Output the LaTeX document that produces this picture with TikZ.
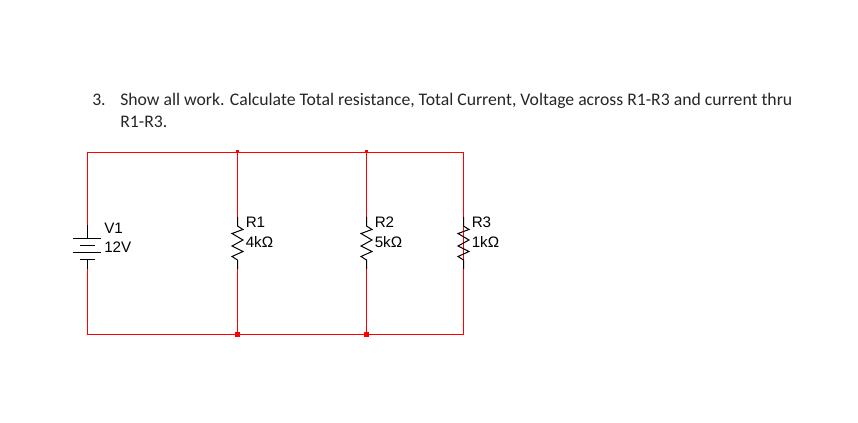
\documentclass[tikz,border=0pt]{standalone}
\usepackage{fontspec}
\setmainfont{Carlito}
\newfontfamily\partfont{Liberation Sans}
\usepackage{xcolor}
\usetikzlibrary{calc, positioning}

\definecolor{wirered}{RGB}{255,0,0}
\definecolor{textgray}{RGB}{38,38,38}
\tikzset{
    wire/.style={draw=wirered, line width=0.27mm},
    lead/.style={draw=black, line width=0.25mm},
    txt/.style={anchor=base west, inner sep=0pt, text=textgray, font=\fontsize{12.58pt}{14pt}\selectfont},
    partlabel/.style={anchor=base west, inner sep=0pt, text=black, font=\partfont\fontsize{10.8pt}{12pt}\selectfont},
    joint/.style={fill=wirered, inner sep=0pt, minimum width=1.1mm, minimum height=1.1mm}
}

\begin{document}
\begin{tikzpicture}[x=0.25mm, y=-0.25mm]
    \useasboundingbox (0, 0) rectangle (858, 422);
    % question text
    \node[txt] (num) at (92, 105) {3.};
    \node[txt] (line1) at (120, 105) {Show all work. Calculate Total resistance, Total Current, Voltage across R1-R3 and current thru};
    \node[txt] (line2) at (120, 127) {R1-R3.};
    % corners of the loop
    \coordinate (tl) at (87.5, 152.5);
    \coordinate (tr) at (463.5, 152.5);
    \coordinate (bl) at (87.5, 334.5);
    \coordinate (br) at (463.5, 334.5);
    \node[joint, minimum width=0.9mm, minimum height=0.7mm] (top1) at (237.5, 151.5) {};
    \node[joint, minimum width=0.9mm, minimum height=0.7mm] (top2) at (366.5, 151.5) {};
    \node[joint] (bot1) at (237.5, 334.5) {};
    \node[joint] (bot2) at (366.5, 334.5) {};
    % battery ends
    \coordinate (vtop) at (87.5, 225);
    \coordinate (vbot) at (87.5, 269);
    \coordinate (pl1) at (87.5, 238);
    \coordinate (pl4) at (87.5, 259);
    \draw[wire] (vtop) -- (tl) -- (tr) -- (br) -- (bl) -- (vbot);
    \draw[lead] (vtop) -- (pl1) (pl4) -- (vbot);
    \draw[lead]
    (73, 238.5) -- (101, 238.5)
    (80, 245.5) -- (95, 245.5)
    (73, 252.5) -- (101, 252.5)
    (80, 259.5) -- (95, 259.5);
    \node[partlabel] (v1) at (104, 233) {V1};
    \node[partlabel] (v1val) at (104, 252.5) {12V};
    % the three resistors
    \foreach \name/\x/\val/\side in {R1/237.5/4/top1, R2/366.5/5/top2, R3/463.5/1/tr} {
        \coordinate (\name a) at (\x, 217);
        \coordinate (\name b) at (\x, 269);
        \draw[wire] (\side |- tr) -- (\name a);
        \draw[lead] (\name a) -- (\x, 226) -- (\x + 5.5, 229.5) -- (\x - 5.5, 233.5) -- (\x + 5.5, 240) -- (\x - 5.5, 246) -- (\x + 5.5, 251.5) -- (\x - 5.5, 256.5) -- (\x, 260) -- (\name b);
        \node[partlabel] (\name l) at (\x + 8, 227.5) {\name};
        \node[partlabel] (\name v) at (\x + 8, 247) {\val kΩ};
    }
    \draw[wire] (R1b) -- (bot1.center);
    \draw[wire] (R2b) -- (bot2.center);
    \draw[wire] (R3b) -- (br);
\end{tikzpicture}
\end{document}
